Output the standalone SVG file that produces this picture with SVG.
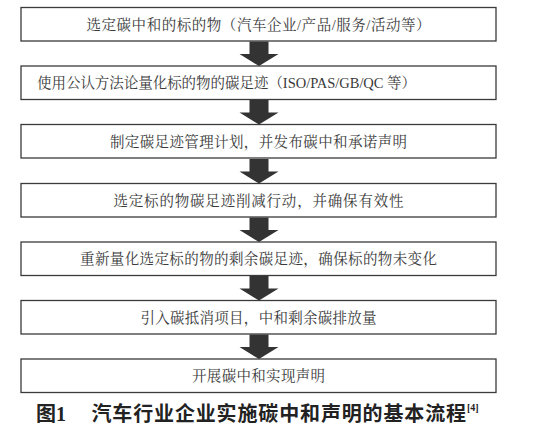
<svg xmlns="http://www.w3.org/2000/svg" width="535" height="442" viewBox="0 0 535 442">
<style>
.box{fill:#fff;stroke:#3a3a3a;stroke-width:1.3}
.t{font-family:"Liberation Serif","Noto Serif CJK SC","Noto Sans CJK SC",serif;font-size:14.5px;fill:#3a3a3a;text-anchor:middle}
.cap{font-family:"Liberation Serif","Noto Sans CJK SC",serif;font-weight:bold;font-size:20px;fill:#222}
.arr{fill:#333}
</style>
<defs>
<path id="a" d="M249.5,0.5 H268.5 V13 H278.5 L259,25 L239.5,13 H249.5 Z"/>
</defs>
<rect width="535" height="442" fill="#fff"/>
<g id="connectors">
<use href="#a" class="arr" transform="translate(0,41)"/>
<use href="#a" class="arr" transform="translate(0,99.5)"/>
<use href="#a" class="arr" transform="translate(0,158.5)"/>
<use href="#a" class="arr" transform="translate(0,217)"/>
<use href="#a" class="arr" transform="translate(0,275.5)"/>
<use href="#a" class="arr" transform="translate(0,334)"/>
</g>
<g id="n1"><rect class="box" x="21" y="7.5" width="475" height="33.5"/><text class="t" x="258.5" y="29.5" textLength="344">选定碳中和的标的物（汽车企业/产品/服务/活动等）</text></g>
<g id="n2"><rect class="box" x="21" y="66" width="475" height="33.5"/><text class="t" x="37" y="88" style="text-anchor:start" textLength="379">使用公认方法论量化标的物的碳足迹（ISO/PAS/GB/QC 等）</text></g>
<g id="n3"><rect class="box" x="21" y="124.5" width="475" height="33.5"/><text class="t" x="258.5" y="146.5" textLength="297">制定碳足迹管理计划，并发布碳中和承诺声明</text></g>
<g id="n4"><rect class="box" x="21" y="183.5" width="475" height="33.5"/><text class="t" x="258.5" y="205.5" textLength="290">选定标的物碳足迹削减行动，并确保有效性</text></g>
<g id="n5"><rect class="box" x="21" y="242" width="475" height="33.5"/><text class="t" x="258.5" y="264" textLength="357">重新量化选定标的物的剩余碳足迹，确保标的物未变化</text></g>
<g id="n6"><rect class="box" x="21" y="300.5" width="475" height="33.5"/><text class="t" x="258.5" y="322.5" textLength="236">引入碳抵消项目，中和剩余碳排放量</text></g>
<g id="n7"><rect class="box" x="21" y="359" width="475" height="33.5"/><text class="t" x="258.5" y="381" textLength="133">开展碳中和实现声明</text></g>
<g id="caption">
<text class="cap" x="36" y="421">图1</text>
<text class="cap" x="91.5" y="421" textLength="374.5">汽车行业企业实施碳中和声明的基本流程</text>
<text class="cap" x="467" y="411" style="font-size:10px">[4]</text>
</g>
</svg>
